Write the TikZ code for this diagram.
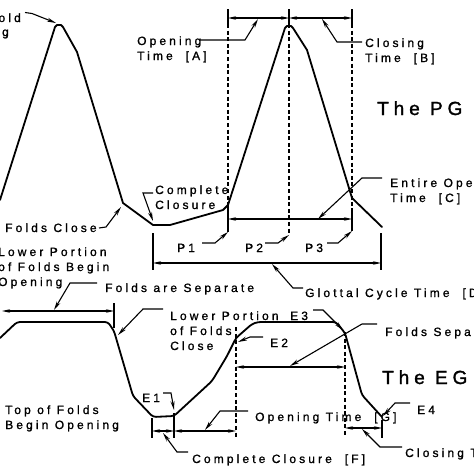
\documentclass[tikz,border=0pt]{standalone}
\usepackage{fontspec}
\setmainfont[LetterSpace=26,FakeBold=1.2]{Liberation Sans}
\newfontfamily\bigfont[LetterSpace=26,FakeBold=1.5]{Liberation Sans}
\usetikzlibrary{arrows.meta}
\newcommand\mlines[1]{\begin{tabular}[t]{@{}l@{}}#1\end{tabular}}
\begin{document}
\begin{tikzpicture}[x=1pt,y=-1pt,
  wave/.style={line width=1.8pt, line join=round, line cap=round},
  tick/.style={line width=1.3pt},
  dashln/.style={line width=1.4pt, dash pattern=on 4pt off 2.6pt},
  leader/.style={line width=1.1pt, -{Stealth[length=9pt,width=4pt]}},
  dim/.style={line width=1.1pt, {Stealth[length=8pt,width=3.5pt]}-{Stealth[length=8pt,width=3.5pt]}},
  lbl/.style={font=\fontsize{12}{15}\selectfont, inner sep=0pt, anchor=base west},
  big/.style={font=\bigfont\fontsize{19}{22}\selectfont, inner sep=0pt, anchor=base west}]
\useasboundingbox (0,0) rectangle (474,474);
\clip (0,0) rectangle (474,474);

% ---------- PG waveform ----------
\draw[wave] (0,200) -- (55,27) -- (57,25) -- (61,25) -- (63,27) -- (77,52) -- (123,203)
  -- (153,225) -- (170,225) -- (223,210) -- (228,205) -- (285,28) -- (287,26) -- (291,26)
  -- (293,28) -- (307,50) -- (352,198) -- (382,227);

% ---------- EG waveform ----------
\draw[wave, rounded corners=3pt] (0,338) -- (17,322) -- (108,322) -- (114,331) -- (133,396)
  -- (153,417) -- (174,416) -- (212,381) -- (227,356) -- (236,338) -- (252,324) -- (258,322)
  -- (336,322) -- (345,333) -- (362,395) -- (382,417);

% ---------- PG reference lines ----------
\path (228,9) coordinate (ta1) (228,24) coordinate (ta2) (228,232) coordinate (ta3)
      (289,9) coordinate (tb1) (289,24) coordinate (tb2) (289,235) coordinate (tb3)
      (352,9) coordinate (tc1) (352,24) coordinate (tc2) (352,231) coordinate (tc3);
\draw[tick] (ta1) -- (ta2) (tb1) -- (tb2) (tc1) -- (tc2);
\draw[dashln] (ta2) -- (ta3) (tb2) -- (tb3) (tc2) -- (tc3);
\path (228,18) coordinate (da1) (289,18) coordinate (da2) (352,18) coordinate (da3);
\draw[dim] (da1) -- (da2);
\draw[dim] (da2) -- (da3);
% entire open time
\path (228,205) coordinate (ea0) (352,208) coordinate (ec0)
      (228,219) coordinate (ea) (352,219) coordinate (ec);
\draw[tick] (ea0) -- (ta3) (ec0) -- (tc3);
\draw[dim] (ea) -- (ec);
% glottal cycle
\path (153,233) coordinate (ga1) (153,270) coordinate (ga2) (381,233) coordinate (gb1) (381,270) coordinate (gb2)
      (153,263) coordinate (ga) (381,263) coordinate (gb);
\draw[tick] (ga1) -- (ga2) (gb1) -- (gb2);
\draw[dim] (ga) -- (gb);

% ---------- EG reference lines ----------
\path (2,311) coordinate (fa) (114,311) coordinate (fb) (114,303) coordinate (fb1) (114,328) coordinate (fb2);
\draw[tick] (fb1) -- (fb2);
\draw[dim] (fa) -- (fb);
\path (236,327) coordinate (xa1) (236,437) coordinate (xa2) (345,332) coordinate (xb1) (345,437) coordinate (xb2);
\draw[dashln] (xa1) -- (xa2) (xb1) -- (xb2);
\path (236,367) coordinate (ma) (345,367) coordinate (mb);
\draw[dim] (ma) -- (mb);
\path (152,418) coordinate (ba1) (152,438) coordinate (ba2) (174,413) coordinate (bb1) (174,438) coordinate (bb2)
      (152,431) coordinate (ba) (174,431) coordinate (bb) (236,431) coordinate (bc);
\draw[tick] (ba1) -- (ba2) (bb1) -- (bb2);
\draw[dim] (ba) -- (bb);
\draw[dim] (bb) -- (bc);
\path (382,420) coordinate (ra1) (382,438) coordinate (ra2) (345,428) coordinate (ra) (382,428) coordinate (rb);
\draw[tick] (ra1) -- (ra2);
\draw[dim] (ra) -- (rb);

% ---------- labels ----------
\node[lbl, anchor=base east] (tl1) at (21,22) {Fold};
\node[lbl, anchor=base east] (tl2) at (9,36) {Opening};
\node[lbl] (labA) at (137,45) {\mlines{Opening\\Time\ \ [A]}};
\node[lbl] (labB) at (365,47) {\mlines{Closing\\Time\ \ [B]}};
\node[big] (pg) at (377,115) {The PG};
\node[lbl] (cc1) at (155,194) {\mlines{Complete\\Closure}};
\node[lbl] (labC) at (390,187) {\mlines{Entire Open\\Time\ \ [C]}};
\node[lbl] (fc) at (5,232) {Folds Close};
\node[lbl] (p1) at (177,252) {P1};
\node[lbl] (p2) at (245,252) {P2};
\node[lbl] (p3) at (305,252) {P3};
\node[lbl] (lpb) at (-2,256) {\mlines{Lower Portion\\of Folds Begin\\Opening}};
\node[lbl] (fas) at (105,292) {Folds are Separate};
\node[lbl] (gct) at (305,297) {Glottal Cycle Time\ \ [D]};
\node[lbl] (lpc) at (170,320) {\mlines{Lower Portion\\of Folds\\Close}};
\node[lbl] (e3) at (290,320) {E3};
\node[lbl] (fsp) at (385,336) {Folds Separate};
\node[lbl] (e2) at (270,347) {E2};
\node[big] (eg) at (382,384) {The EG};
\node[lbl] (e1) at (142,402) {E1};
\node[lbl] (tfo) at (5,414) {\mlines{Top of Folds\\Begin Opening}};
\node[lbl] (e4) at (417,414) {E4};
\node[lbl] (otg) at (255,421) {Opening Time\ \ [G]};
\node[lbl] (ccf) at (192,463) {Complete Closure\ \ [F]};
\node[lbl] (clt) at (405,457) {Closing Time};

% ---------- leaders ----------
\path (25,12.5) coordinate (L1a) (32,13.5) coordinate (L1b) (56,23) coordinate (L1c);
\draw[leader] (L1a) -- (L1b) -- (L1c);
\path (200,40) coordinate (LAa) (245,40) coordinate (LAb) (258,19) coordinate (LAc);
\draw[leader] (LAa) -- (LAb) -- (LAc);
\path (362,42) coordinate (LBa) (337,42) coordinate (LBb) (322,19) coordinate (LBc);
\draw[leader] (LBa) -- (LBb) -- (LBc);
\path (382,178) coordinate (LCa) (362,178) coordinate (LCb) (318,219) coordinate (LCc);
\draw[leader] (LCa) -- (LCb) -- (LCc);
\path (153,193) coordinate (LKa) (143,193) coordinate (LKb) (153,221) coordinate (LKc);
\draw[leader] (LKa) -- (LKb) -- (LKc);
\path (99,228) coordinate (LFa) (106,227) coordinate (LFb) (121,207) coordinate (LFc);
\draw[leader] (LFa) -- (LFb) -- (LFc);
\path (202,243) coordinate (P1a) (215,243) coordinate (P1b) (228,232) coordinate (P1c);
\draw[leader] (P1a) -- (P1b) -- (P1c);
\path (265,243) coordinate (P2a) (278,243) coordinate (P2b) (289,235) coordinate (P2c);
\draw[leader] (P2a) -- (P2b) -- (P2c);
\path (327,243) coordinate (P3a) (338,243) coordinate (P3b) (352,231) coordinate (P3c);
\draw[leader] (P3a) -- (P3b) -- (P3c);
\path (303,288) coordinate (LGa) (293,288) coordinate (LGb) (272,264) coordinate (LGc);
\draw[leader] (LGa) -- (LGb) -- (LGc);
\path (97,283) coordinate (LSa) (70,283) coordinate (LSb) (54,310) coordinate (LSc);
\draw[leader] (LSa) -- (LSb) -- (LSc);
\path (163,309) coordinate (LLa) (143,309) coordinate (LLb) (118,335) coordinate (LLc);
\draw[leader] (LLa) -- (LLb) -- (LLc);
\path (313,310) coordinate (L3a) (323,310) coordinate (L3b) (343,330) coordinate (L3c);
\draw[leader] (L3a) -- (L3b) -- (L3c);
\path (263,337) coordinate (L2a) (250,337) coordinate (L2b) (238,342) coordinate (L2c);
\draw[leader] (L2a) -- (L2b) -- (L2c);
\path (377,324) coordinate (LPa) (362,324) coordinate (LPb) (290,366) coordinate (LPc);
\draw[leader] (LPa) -- (LPb) -- (LPc);
\path (163,393) coordinate (E1a) (171,393) coordinate (E1b) (174,410) coordinate (E1c);
\draw[leader] (E1a) -- (E1b) -- (E1c);
\path (410,403) coordinate (E4a) (395,403) coordinate (E4b) (383,416) coordinate (E4c);
\draw[leader] (E4a) -- (E4b) -- (E4c);
\path (248,411) coordinate (LOa) (220,411) coordinate (LOb) (205,430) coordinate (LOc);
\draw[leader] (LOa) -- (LOb) -- (LOc);
\path (188,452) coordinate (LQa) (177,452) coordinate (LQb) (163,433) coordinate (LQc);
\draw[leader] (LQa) -- (LQb) -- (LQc);
\path (402,447) coordinate (LTa) (380,447) coordinate (LTb) (362,429) coordinate (LTc);
\draw[leader] (LTa) -- (LTb) -- (LTc);
\end{tikzpicture}
\end{document}
